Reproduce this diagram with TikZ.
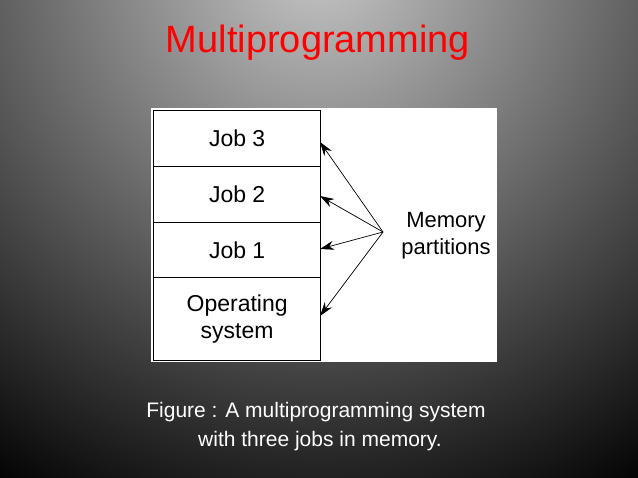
\documentclass[tikz,border=0pt]{standalone}
\usepackage{fontspec}
\setmainfont{Liberation Sans}
\usetikzlibrary{arrows.meta}
\begin{document}
\begin{tikzpicture}[x=1pt,y=-1pt,
  cell/.style={draw=black,line width=1.3pt,fill=white,minimum width=167pt,anchor=north west,inner sep=0pt,align=center,font=\fontsize{23}{27}\selectfont},
  arr/.style={-{Stealth[length=14pt,width=9pt]},line width=0.7pt}]
\useasboundingbox (0,0) rectangle (638,478);
\begin{scope}
\clip (0,0) rectangle (638,478);
\fill[black] (0,0) rectangle (638,478);
\shade[inner color=white!78!black, outer color=black] (319,-40) circle (620pt);
\end{scope}
\node[text=red,font=\fontsize{38}{40}\selectfont] (title) at (318,43) {Multiprogramming};
\fill[white] (151,108) rectangle (497,362);
\node[cell,minimum height=56pt] (j3) at (153,110) {Job 3};
\node[cell,minimum height=56pt] (j2) at (153,166) {Job 2};
\node[cell,minimum height=55pt] (j1) at (153,222) {Job 1};
\node[cell,minimum height=83pt] (os) at (153,277) {Operating\\system};
\coordinate (o) at (383,232);
\node[align=center,font=\fontsize{22}{27}\selectfont] (mem) at (446,236) {Memory\\partitions};
\draw[arr] (o) -- (320,142);
\draw[arr] (o) -- (320,196);
\draw[arr] (o) -- (320,249);
\draw[arr] (o) -- (320,316);
\node[text=white,align=center,font=\fontsize{21}{29}\selectfont] (cap) at (316,427) {Figure : A multiprogramming system\\\hspace*{8pt}with three jobs in memory.};
\end{tikzpicture}
\end{document}
